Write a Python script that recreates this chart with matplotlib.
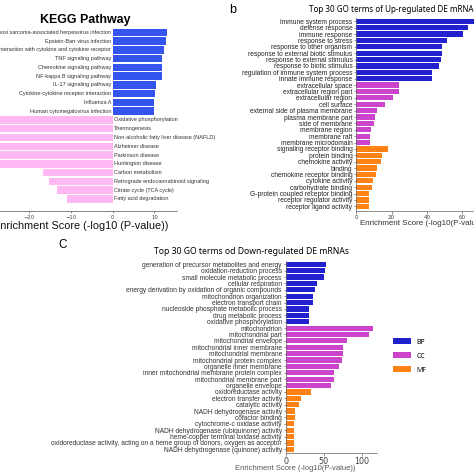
import matplotlib
matplotlib.use("Agg")
import matplotlib.pyplot as plt
from matplotlib.patches import Patch

# ---------------- data ----------------
kegg_up_terms = ["Kaposi sarcoma-associated herpesvirus infection", "Epstein-Barr virus infection",
                 "Viral protein interaction with cytokine and cytokine receptor", "TNF signaling pathway",
                 "Chemokine signaling pathway", "NF-kappa B signaling pathway", "IL-17 signaling pathway",
                 "Cytokine-cytokine receptor interaction", "Influenza A", "Human cytomegalovirus infection"]
kegg_up_vals = [13.1, 12.8, 12.4, 11.9, 11.9, 11.9, 10.5, 10.2, 9.8, 9.8]
kegg_down_terms = ["Oxidative phosphorylation", "Thermogenesis", "Non-alcoholic fatty liver disease (NAFLD)",
                   "Alzheimer disease", "Parkinson disease", "Huntington disease", "Carbon metabolism",
                   "Retrograde endocannabinoid signaling", "Citrate cycle (TCA cycle)", "Fatty acid degradation"]
kegg_down_vals = [-32, -31, -30.5, -30, -30, -29.5, -16.8, -15.2, -13.3, -11.0]

up_bp_terms = ["immune system process", "defense response", "immune response", "response to stress",
               "response to other organism", "response to external biotic stimulus",
               "response to external stimulus", "response to biotic stimulus",
               "regulation of immune system process", "innate immune response"]
up_bp_vals = [68, 63.4, 60.4, 51.5, 48.7, 48.7, 48.1, 46.8, 43.0, 43.0]
up_cc_terms = ["extracellular space", "extracellular region part", "extracellular region", "cell surface",
               "external side of plasma membrane", "plasma membrane part", "side of membrane",
               "membrane region", "membrane raft", "membrane microdomain"]
up_cc_vals = [24.3, 24.0, 20.9, 16.4, 11.7, 10.6, 9.8, 8.3, 7.9, 7.9]
up_mf_terms = ["signaling receptor binding", "protein binding", "chemokine activity", "binding",
               "chemokine receptor binding", "cytokine activity", "carbohydrate binding",
               "G-protein coupled receptor binding", "receptor regulator activity", "receptor ligand activity"]
up_mf_vals = [17.9, 14.5, 14.0, 11.7, 10.9, 9.4, 8.9, 7.4, 7.2, 7.2]

dn_bp_terms = ["generation of precursor metabolites and energy", "oxidation-reduction process",
               "small molecule metabolic process", "cellular respiration",
               "energy derivation by oxidation of organic compounds", "mitochondrion organization",
               "electron transport chain", "nucleoside phosphate metabolic process",
               "drug metabolic process", "oxidative phosphorylation"]
dn_bp_vals = [52.6, 51.8, 50.0, 41.7, 38.6, 36.0, 35.5, 31.1, 30.7, 30.7]
dn_cc_terms = ["mitochondrion", "mitochondrial part", "mitochondrial envelope", "mitochondrial inner membrane",
               "mitochondrial membrane", "mitochondrial protein complex", "organelle inner membrane",
               "inner mitochondrial membrane protein complex", "mitochondrial membrane part",
               "organelle envelope"]
dn_cc_vals = [115, 109, 80, 76, 75.4, 74.6, 70.6, 64, 63.6, 59.2]
dn_mf_terms = ["oxidoreductase activity", "electron transfer activity", "catalytic activity",
               "NADH dehydrogenase activity", "cofactor binding", "cytochrome-c oxidase activity",
               "NADH dehydrogenase (ubiquinone) activity", "heme-copper terminal oxidase activity",
               "oxidoreductase activity, acting on a heme group of donors, oxygen as acceptor",
               "NADH dehydrogenase (quinone) activity"]
dn_mf_vals = [33.3, 20.0, 18.0, 11.8, 11.6, 11.5, 11.5, 11.5, 11.5, 11.5]

go_labels = ["BP", "CC", "MF"]

# ---------------- style ----------------
KEGG_BLUE = "#3355ee"
KEGG_PINK = "#ffb8f2"
BP_C = "#2121cf"
CC_C = "#cc44cc"
MF_C = "#ff8214"
W = H = 474.0

fig = plt.figure(figsize=(4.74, 4.74), dpi=100)
fig.patch.set_facecolor("white")


def add_ax(l, t, r, b):
    return fig.add_axes([l / W, 1 - b / H, (r - l) / W, (b - t) / H])


# ---------------- panel a: KEGG ----------------
axa = add_ax(-12.4, 27, 177.3, 211)
terms = kegg_up_terms + kegg_down_terms
vals = kegg_up_vals + kegg_down_vals
cols = [KEGG_BLUE] * len(kegg_up_vals) + [KEGG_PINK] * len(kegg_down_vals)
ypos = list(range(len(terms)))
axa.barh(ypos, vals, height=0.85, color=cols)
for y, t, v in zip(ypos, terms, vals):
    if v > 0:
        axa.text(-0.35, y, t, ha="right", va="center", fontsize=4.0, color="#333333",
                 family="Liberation Sans")
    else:
        axa.text(0.25, y, t, ha="left", va="center", fontsize=4.0, color="#333333",
                 family="Liberation Sans")
axa.set_xlim(-30, 15.5)
axa.set_ylim(20.38, -0.6)
axa.set_yticks([])
axa.set_xticks([-20, -10, 0, 10])
axa.tick_params(axis="x", labelsize=3.8, length=1.5, width=0.4, pad=1.5, colors="#444444")
for s in ["top", "right", "left"]:
    axa.spines[s].set_visible(False)
axa.spines["bottom"].set_linewidth(0.5)
axa.spines["bottom"].set_color("#555555")
axa.set_xlabel("Enrichment Score (-log10 (P-value))", fontsize=7.8, family="Liberation Sans",
               color="#111111")
axa.xaxis.set_label_coords(0.49, -0.055)
axa.set_title("KEGG Pathway", fontsize=8.9, fontweight="bold", family="Liberation Sans", pad=3)
axa.title.set_position((0.515, 1.0))


def go_panel(ax, bp_t, bp_v, cc_t, cc_v, mf_t, mf_v, xlim, ylim, xticks, tick_fs, lab_fs, lab_col):
    t = bp_t + cc_t + mf_t
    v = bp_v + cc_v + mf_v
    c = [BP_C] * len(bp_v) + [CC_C] * len(cc_v) + [MF_C] * len(mf_v)
    y = list(range(len(t)))
    ax.barh(y, v, height=0.82, color=c)
    ax.set_yticks(y)
    ax.set_yticklabels(t, fontsize=lab_fs, family="Liberation Sans", color=lab_col)
    ax.set_xlim(*xlim)
    ax.set_ylim(*ylim)
    ax.set_xticks(xticks)
    ax.tick_params(axis="y", length=1.8, width=0.4, pad=1, colors="#444444")
    ax.tick_params(axis="y", labelcolor=lab_col)
    ax.tick_params(axis="x", labelsize=tick_fs, length=1.8, width=0.4, pad=1.0, colors="#444444")
    for s in ["top", "right"]:
        ax.spines[s].set_visible(False)
    for s in ["bottom", "left"]:
        ax.spines[s].set_linewidth(0.5)
        ax.spines[s].set_color("#666666")


# ---------------- panel b ----------------
axb = add_ax(356.3, 17.5, 479.9, 210.7)
go_panel(axb, up_bp_terms, up_bp_vals, up_cc_terms, up_cc_vals, up_mf_terms, up_mf_vals,
         (0, 70), (29.69, -0.6), [0, 20, 40, 60], 4.1, 4.8, "#222222")
axb.set_xlabel("Enrichment Score (-log10(P-value))", fontsize=5.8, family="Liberation Sans",
               color="#333333")
axb.xaxis.set_label_coords(0.54, -0.05)
fig.text(309 / W, 1 - 10 / H, "Top 30 GO terms of Up-regulated DE mRNAs", fontsize=5.8,
         fontweight="bold", family="Noto Sans", ha="left", va="center")

# ---------------- panel c ----------------
axc = add_ax(285.7, 260.5, 377.3, 452.7)
go_panel(axc, dn_bp_terms, dn_bp_vals, dn_cc_terms, dn_cc_vals, dn_mf_terms, dn_mf_vals,
         (0, 120.5), (29.53, -0.6), [0, 50, 100], 5.8, 4.75, "#333333")
axc.set_xlabel("Enrichment Score (-log10(P-value))", fontsize=5.5, family="Liberation Sans",
               color="#555555")
axc.xaxis.set_label_coords(0.107, -0.064)
fig.text(252 / W, 1 - 251 / H, "Top 30 GO terms od Down-regulated DE mRNAs", fontsize=6.2,
         fontweight="bold", family="Noto Sans", ha="center", va="center")

# legend
handles = [Patch(facecolor=c, edgecolor="none") for c in (BP_C, CC_C, MF_C)]
fig.legend(handles, go_labels, loc="center left", bbox_to_anchor=(387 / W, 1 - 356 / H),
           frameon=False, handlelength=2.5, handleheight=0.9, labelspacing=0.95,
           handletextpad=0.8, prop={"family": "Noto Sans", "weight": "bold", "size": 5.0})

# panel letters
fig.text(233 / W, 1 - 10 / H, "b", fontsize=9, family="Liberation Sans", ha="center", va="center")
fig.text(63 / W, 1 - 245 / H, "C", fontsize=8.5, family="Liberation Sans", ha="center", va="center")

fig.savefig("out.png", dpi=100, facecolor="white")
